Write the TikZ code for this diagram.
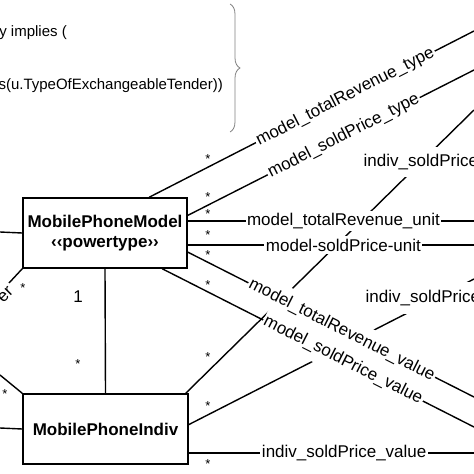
\documentclass[tikz,border=0pt]{standalone}
\usepackage{fontspec}
\setmainfont{Liberation Sans}
\usetikzlibrary{decorations.pathreplacing}

\begin{document}
\begin{tikzpicture}[x=1pt,y=-1pt,
	cls/.style={rectangle,draw,line width=1.4pt,minimum width=164pt,minimum height=70pt,inner sep=0pt,align=center,font=\fontsize{17}{20}\selectfont\bfseries},
	lbl/.style={fill=white,inner xsep=1.5pt,inner ysep=2.5pt,font=\fontsize{17}{20}\selectfont},
	tlbl/.style={lbl,inner ysep=7pt},
	mult/.style={inner sep=0pt,font=\fontsize{13}{15}\selectfont},
	txt/.style={inner sep=0pt,font=\fontsize{15}{18}\selectfont},
	assoc/.style={line width=1.4pt}]
\useasboundingbox (0,0) rectangle (474,474);

% constraint text and brace
\node[txt,anchor=east] at (67,33) (c1) {y implies (};
\node[txt,anchor=east] at (223,86) (c2) {s(u.TypeOfExchangeableTender))};
\draw[gray,line width=0.8pt,decorate,decoration={brace,amplitude=10pt}] (230,4) -- (230,132);

% classes
\node[cls] at (105,233) (model) {MobilePhoneModel\\‹‹powertype››};
\node[cls,minimum width=165pt] at (105.5,429) (indiv) {MobilePhoneIndiv};

% free ends
\coordinate (e1) at (474,31);
\coordinate (e2) at (474,70);
\coordinate (e3) at (474,221);
\coordinate (e4) at (474,245);
\coordinate (e5) at (474,397);
\coordinate (e6) at (474,427);
\coordinate (e7) at (474,110);
\coordinate (e8) at (474,279);
\coordinate (e9) at (474,453);
\coordinate (w1) at (0,232);
\coordinate (w2) at (9,283);
\coordinate (w3) at (0,375);
\coordinate (w4) at (0,428);

% left side
\draw[assoc] (w1) -- (model.west);
\draw[assoc] (model.south west) -- (w2);
\node[lbl,fill=none,inner sep=0pt,rotate=45,anchor=east] at (11,289) (er) {er};
\draw[assoc] (w3) -- (indiv.north west);
\draw[assoc] (w4) -- (indiv.west);
\draw[assoc] (model.south) -- (indiv.north);
\node[lbl,fill=none] at (78,297) (one) {1};

% indiv links
\draw[assoc] (indiv.24) -- (e7);
\node[tlbl,anchor=west] at (362,162) (ia) {indiv\_soldPrice};
\draw[assoc] (indiv.3) -- (e8);
\node[tlbl,inner ysep=8pt,anchor=west] at (364,298) (ib) {indiv\_soldPrice};
\draw[assoc] (e9 -| indiv.east) -- node[lbl,pos=0.545] (l9) {indiv\_soldPrice\_value} (e9);

% model links
\draw[assoc] (model.39) -- node[tlbl,sloped,pos=0.604] (l1) {model\_totalRevenue\_type} (e1);
\draw[assoc] (model.12) -- node[tlbl,sloped,pos=0.545] (l2) {model\_soldPrice\_type} (e2);
\draw[assoc] (e3 -| model.east) -- node[lbl,pos=0.544] (l3) {model\_totalRevenue\_unit} (e3);
\draw[assoc] (e4 -| model.east) -- node[lbl,pos=0.544] (l4) {model-soldPrice-unit} (e4);
\draw[assoc] (model.-13) -- node[tlbl,sloped,pos=0.538] (l5) {model\_totalRevenue\_value} (e5);
\draw[assoc] (model.-32) -- node[tlbl,sloped,pos=0.58] (l6) {model\_soldPrice\_value} (e6);

% multiplicities
\foreach \y [count=\i] in {157,195,212,233,253,283,355,404,462}
	\node[mult] at (208,\y+2) (m\i) {*};
\node[mult] at (23,288) (ml1) {*};
\node[mult] at (5,394) (ml2) {*};
\node[mult] at (78,364) (mv) {*};
\end{tikzpicture}
\end{document}
